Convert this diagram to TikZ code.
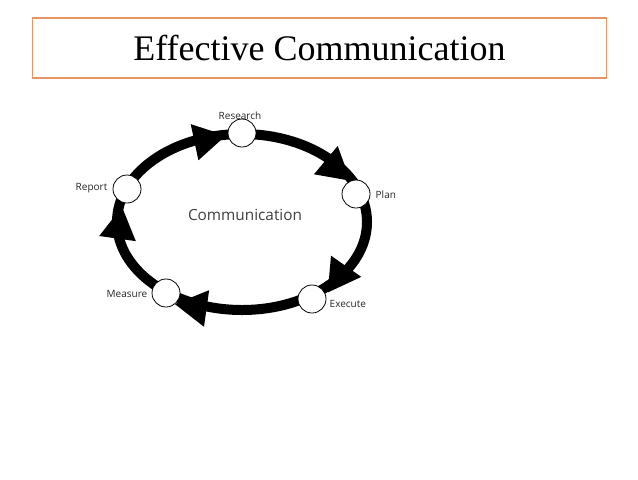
\documentclass[tikz,border=0pt]{standalone}
\usepackage{fontspec}
\setmainfont{Liberation Serif}
\newfontfamily\lab{Open Sans}
\usetikzlibrary{shapes.geometric}
\begin{document}
\begin{tikzpicture}[x=0.75pt,y=-0.75pt,
  stop/.style={circle,draw=black,fill=white,line width=0.6pt,minimum width=21pt,minimum height=19pt,inner sep=0pt},
  tri/.style={isosceles triangle,isosceles triangle apex angle=60,fill=black,inner sep=0pt,minimum height=24pt,minimum width=26pt},
  lbl/.style={font=\lab\fontsize{7.5}{9}\selectfont,text=black!85}]
\useasboundingbox (0,0) rectangle (638,479);
\node[draw={rgb,255:red,230;green,150;blue,100},line width=0.8pt,minimum width=430pt,minimum height=45pt,font=\fontsize{27}{30}\selectfont] (title) at (319.5,48) {Effective Communication};
\draw[line width=7.5pt] (242,222) ellipse [x radius=125, y radius=88];
\node[tri,rotate=12] (a1) at (205,140) {};
\node[tri,rotate=-40] (a2) at (334,167) {};
\node[tri,rotate=-125] (a3) at (340,275) {};
\node[tri,rotate=172] (a4) at (196,307) {};
\node[tri,rotate=82] (a5) at (119,228) {};
\node[stop] (research) at (242,133) {};
\node[stop] (plan) at (356,194) {};
\node[stop] (execute) at (312,299) {};
\node[stop] (measure) at (166,293) {};
\node[stop] (report) at (127,189) {};
\node[lbl] at (240,116) {Research};
\node[lbl,anchor=west] at (371,195) {Plan};
\node[lbl,anchor=west] at (325,304) {Execute};
\node[lbl,anchor=east] at (152,294) {Measure};
\node[lbl,anchor=east] at (112,188) {Report};
\node[font=\lab\fontsize{11.5}{13}\selectfont,text=black!75] (comm) at (245,215) {Communication};
\end{tikzpicture}
\end{document}
